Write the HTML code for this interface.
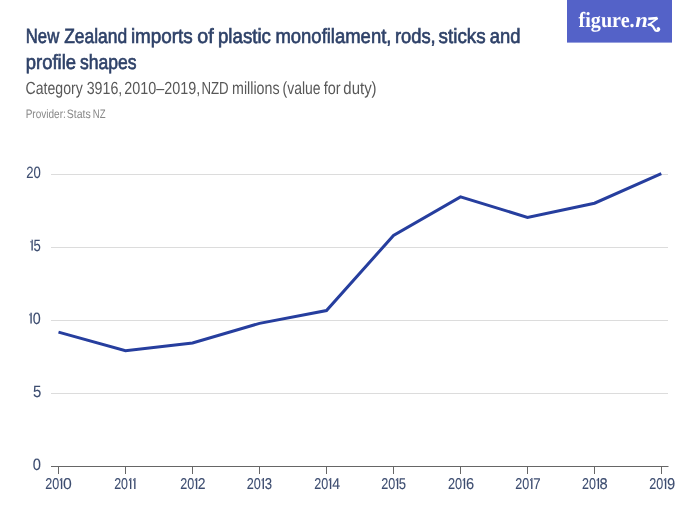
<!DOCTYPE html>
<html><head><meta charset="utf-8">
<style>
html,body{margin:0;padding:0;background:#fff;width:700px;height:525px;overflow:hidden}
svg{display:block;will-change:transform}
text{font-family:"Liberation Sans",sans-serif;text-rendering:geometricPrecision}
</style></head>
<body>
<svg width="700" height="525" viewBox="0 0 700 525">
<!-- logo -->
<rect x="567" y="0" width="105" height="42.6" fill="#5462c8"/>
<text x="578.6" y="26.6" font-weight="bold" font-size="21.5" fill="#fff" textLength="56" lengthAdjust="spacingAndGlyphs" style="font-family:'Liberation Serif',serif">figure.</text>
<text x="635.3" y="26.7" font-weight="bold" font-style="italic" font-size="21" fill="#fff" textLength="12.6" lengthAdjust="spacingAndGlyphs" style="font-family:'Liberation Serif',serif">n</text>
<g fill="none" stroke="#fff">
<path d="M648.3,18.7 L657.4,18.1" stroke-width="2.6"/>
<path d="M657.2,18.6 L648.8,24.9" stroke-width="1.8" stroke-linecap="round"/>
<path d="M648.6,24.7 C651.6,24.3 653.4,26.8 654.4,29 C655.6,31.6 658.6,31.3 659.2,29.4" stroke-width="2.2" stroke-linecap="round"/>
</g>
<circle cx="658.3" cy="28.5" r="1.6" fill="#fff"/>

<!-- text -->
<g font-size="20.5" fill="#2e4168" stroke="#2e4168" stroke-width="0.65">
<text x="25.84" y="42.8" textLength="33.36" lengthAdjust="spacingAndGlyphs">New</text>
<text x="64.14" y="42.8" textLength="62.97" lengthAdjust="spacingAndGlyphs">Zealand</text>
<text x="130.9" y="42.8" textLength="61.86" lengthAdjust="spacingAndGlyphs">imports</text>
<text x="197.35" y="42.8" textLength="16.37" lengthAdjust="spacingAndGlyphs">of</text>
<text x="217.96" y="42.8" textLength="52.96" lengthAdjust="spacingAndGlyphs">plastic</text>
<text x="275.43" y="42.8" textLength="116.02" lengthAdjust="spacingAndGlyphs">monofilament,</text>
<text x="394.97" y="42.8" textLength="40.75" lengthAdjust="spacingAndGlyphs">rods,</text>
<text x="438.61" y="42.8" textLength="46.96" lengthAdjust="spacingAndGlyphs">sticks</text>
<text x="489.77" y="42.8" textLength="30.76" lengthAdjust="spacingAndGlyphs">and</text>
</g>
<g font-size="20.5" fill="#2e4168" stroke="#2e4168" stroke-width="0.65">
<text x="25.8" y="68.8" textLength="50.27" lengthAdjust="spacingAndGlyphs">profile</text>
<text x="79.92" y="68.8" textLength="56.53" lengthAdjust="spacingAndGlyphs">shapes</text>
</g>
<g font-size="17.5" fill="#585858">
<text x="25.57" y="93.6" textLength="57.2" lengthAdjust="spacingAndGlyphs">Category</text>
<text x="86.65" y="93.6" textLength="35.6" lengthAdjust="spacingAndGlyphs">3916,</text>
<text x="124.27" y="93.6" textLength="75.92" lengthAdjust="spacingAndGlyphs">2010–2019,</text>
<text x="201.4" y="93.6" textLength="27.25" lengthAdjust="spacingAndGlyphs">NZD</text>
<text x="232.05" y="93.6" textLength="47.49" lengthAdjust="spacingAndGlyphs">millions</text>
<text x="282.6" y="93.6" textLength="38.05" lengthAdjust="spacingAndGlyphs">(value</text>
<text x="323.81" y="93.6" textLength="16.89" lengthAdjust="spacingAndGlyphs">for</text>
<text x="343.34" y="93.6" textLength="33.26" lengthAdjust="spacingAndGlyphs">duty)</text>
</g>
<g font-size="12.2" fill="#888">
<text x="25.66" y="117.6" textLength="40.16" lengthAdjust="spacingAndGlyphs">Provider:</text>
<text x="66.71" y="117.6" textLength="24.01" lengthAdjust="spacingAndGlyphs">Stats</text>
<text x="92.83" y="117.6" textLength="12.75" lengthAdjust="spacingAndGlyphs">NZ</text>
</g>

<!-- grid -->
<g stroke="#dcdcdc" stroke-width="1">
<line x1="51" y1="174.5" x2="668" y2="174.5"/>
<line x1="51" y1="247.5" x2="668" y2="247.5"/>
<line x1="51" y1="320.5" x2="668" y2="320.5"/>
<line x1="51" y1="393.5" x2="668" y2="393.5"/>
</g>
<line x1="51" y1="466.5" x2="668.5" y2="466.5" stroke="#666" stroke-width="1"/>
<g stroke="#666" stroke-width="1">
<line x1="58.5" y1="466" x2="58.5" y2="474"/>
<line x1="125.5" y1="466" x2="125.5" y2="474"/>
<line x1="192.5" y1="466" x2="192.5" y2="474"/>
<line x1="259.5" y1="466" x2="259.5" y2="474"/>
<line x1="326.5" y1="466" x2="326.5" y2="474"/>
<line x1="393.5" y1="466" x2="393.5" y2="474"/>
<line x1="460.5" y1="466" x2="460.5" y2="474"/>
<line x1="527.5" y1="466" x2="527.5" y2="474"/>
<line x1="594.5" y1="466" x2="594.5" y2="474"/>
<line x1="661.5" y1="466" x2="661.5" y2="474"/>
</g>

<!-- y labels -->
<g font-size="16.3" fill="#3d4d70" stroke="#3d4d70" stroke-width="0.1">
<text x="26.27" y="177.6" textLength="14.53" lengthAdjust="spacingAndGlyphs">20</text>
<text x="33.59" y="250.6" textLength="7.29" lengthAdjust="spacingAndGlyphs">5</text>
<text x="32.74" y="323.6" textLength="7.96" lengthAdjust="spacingAndGlyphs">0</text>
<text x="32.97" y="396.6" textLength="8.3" lengthAdjust="spacingAndGlyphs">5</text>
<text x="32.68" y="469.6" textLength="8.16" lengthAdjust="spacingAndGlyphs">0</text>
</g>

<!-- x labels -->
<g font-size="15.6" fill="#3d4d70" stroke="#3d4d70" stroke-width="0.1">
<text x="45.18" y="488.9" textLength="13.97" lengthAdjust="spacingAndGlyphs">20</text>
<text x="63.08" y="488.9" textLength="8.77" lengthAdjust="spacingAndGlyphs">0</text>
<text x="114.15" y="488.9" textLength="13.84" lengthAdjust="spacingAndGlyphs">20</text>
<text x="180.18" y="488.9" textLength="13.97" lengthAdjust="spacingAndGlyphs">20</text>
<text x="197.85" y="488.9" textLength="7.77" lengthAdjust="spacingAndGlyphs">2</text>
<text x="246.81" y="488.9" textLength="14.09" lengthAdjust="spacingAndGlyphs">20</text>
<text x="264.63" y="488.9" textLength="7.31" lengthAdjust="spacingAndGlyphs">3</text>
<text x="314.16" y="488.9" textLength="13.98" lengthAdjust="spacingAndGlyphs">20</text>
<text x="332.14" y="488.9" textLength="7.8" lengthAdjust="spacingAndGlyphs">4</text>
<text x="381.16" y="488.9" textLength="13.98" lengthAdjust="spacingAndGlyphs">20</text>
<text x="398.8" y="488.9" textLength="7.26" lengthAdjust="spacingAndGlyphs">5</text>
<text x="447.94" y="488.9" textLength="14.16" lengthAdjust="spacingAndGlyphs">20</text>
<text x="465.94" y="488.9" textLength="8.15" lengthAdjust="spacingAndGlyphs">6</text>
<text x="515.26" y="488.9" textLength="13.94" lengthAdjust="spacingAndGlyphs">20</text>
<text x="533.13" y="488.9" textLength="7.35" lengthAdjust="spacingAndGlyphs">7</text>
<text x="581.98" y="488.9" textLength="13.88" lengthAdjust="spacingAndGlyphs">20</text>
<text x="599.57" y="488.9" textLength="8.19" lengthAdjust="spacingAndGlyphs">8</text>
<text x="649.16" y="488.9" textLength="13.98" lengthAdjust="spacingAndGlyphs">20</text>
<text x="667.0" y="488.9" textLength="8.2" lengthAdjust="spacingAndGlyphs">9</text>
</g>
<path fill="#3d4d70" stroke="#3d4d70" stroke-width="0.05" d="M31.45,239.7H32.8V250.6H31.45Z M31.75,239.7L30.35,241.4V242.5L31.75,241.9Z M30.4,312.7H31.75V323.6H30.4Z M30.7,312.7L29.3,314.4V315.5L30.7,314.9Z M60.9,478.0H62.25V488.9H60.9Z M61.2,478.0L59.8,479.7V480.8L61.2,480.2Z M130.0,478.0H131.35V488.9H130.0Z M130.3,478.0L128.9,479.7V480.8L130.3,480.2Z M134.15,478.0H135.5V488.9H134.15Z M134.45,478.0L133.05,479.7V480.8L134.45,480.2Z M195.9,478.0H197.25V488.9H195.9Z M196.2,478.0L194.8,479.7V480.8L196.2,480.2Z M262.6,478.0H263.95V488.9H262.6Z M262.9,478.0L261.5,479.7V480.8L262.9,480.2Z M329.9,478.0H331.25V488.9H329.9Z M330.2,478.0L328.8,479.7V480.8L330.2,480.2Z M396.9,478.0H398.25V488.9H396.9Z M397.2,478.0L395.8,479.7V480.8L397.2,480.2Z M463.8,478.0H465.15V488.9H463.8Z M464.1,478.0L462.7,479.7V480.8L464.1,480.2Z M531.1,478.0H532.45V488.9H531.1Z M531.4,478.0L530.0,479.7V480.8L531.4,480.2Z M597.7,478.0H599.05V488.9H597.7Z M598.0,478.0L596.6,479.7V480.8L598.0,480.2Z M664.9,478.0H666.25V488.9H664.9Z M665.2,478.0L663.8,479.7V480.8L665.2,480.2Z"/>

<!-- data line -->
<polyline fill="none" stroke="#263e9e" stroke-width="3" stroke-linejoin="miter" points="58.5,332.1 125.5,350.8 192.5,343 259.5,323.4 326.5,310.5 393.5,235.5 460.5,196.9 527.5,217.4 594.5,203.2 661.3,173.6"/>
</svg>
</body></html>
